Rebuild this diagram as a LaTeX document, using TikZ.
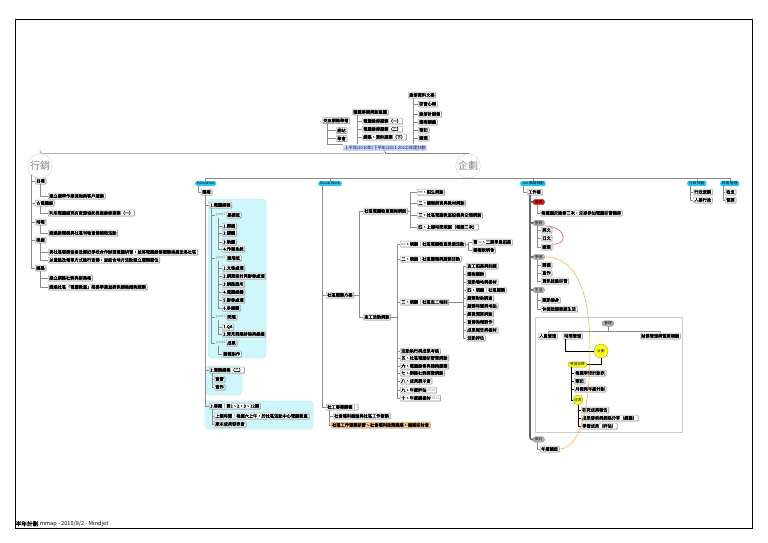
\documentclass[tikz,border=0pt]{standalone}
\usepackage{fontspec}
\setmainfont{Noto Sans CJK TC}[AutoFakeBold=2.2]
\usetikzlibrary{shadows,calc}
\definecolor{pillcol}{HTML}{2EC4EA}
\definecolor{regcol}{HTML}{CFF6FA}
\definecolor{topcol}{HTML}{C9D9F2}
\definecolor{linecol}{HTML}{8C8C8C}
\definecolor{hlcol}{HTML}{F9C594}
\definecolor{yelcol}{HTML}{FFFF1A}
\definecolor{redcol}{HTML}{E8141B}
\definecolor{relred}{HTML}{D4566A}
\definecolor{relorg}{HTML}{F2A535}
\newcommand{\fs}{\fontsize{4.2}{4.6}\selectfont\bfseries}
\newcommand{\fp}{\fontsize{3.6}{4}\selectfont}

\begin{document}
\begin{tikzpicture}[x=1pt,y=-1pt,
  ln/.style={draw=linecol,line width=0.4pt},
  thk/.style={draw=black!60,line width=1.6pt},
  blk/.style={draw=black,line width=0.8pt},
  box/.style={draw=black!40,fill=white,rounded corners=0.6pt,inner xsep=1.1pt,inner ysep=0.9pt,
    font=\fs,anchor=west,drop shadow={shadow xshift=0.5pt,shadow yshift=-0.5pt,fill=black!85}},
  hbox/.style={box,fill=hlcol,draw=hlcol!80!black},
  pill/.style={fill=pillcol,rounded corners=2pt,inner xsep=2pt,inner ysep=0.9pt,font=\fp,anchor=west},
  gpill/.style={pill,fill=black!30,draw=black!45},
  rpill/.style={pill,fill=redcol,draw=redcol!70!black},
  ypill/.style={pill,fill=yelcol,draw=olive!70},
  ycirc/.style={circle,fill=yelcol,draw=olive!80,inner sep=0pt,font=\fp},
  mainc/.style={circle,draw=black!20,fill=white,inner sep=1pt,text=black!50,font=\fontsize{10}{10}\selectfont\mdseries},
  topc/.style={fill=topcol,inner xsep=1.5pt,inner ysep=1.2pt,text=blue!45!black,font=\fontsize{4.2}{4.6}\selectfont},
  region/.style={fill=regcol,draw=pillcol!45,rounded corners=4pt,line width=0.3pt},
]
\useasboundingbox (0,0) rectangle (768,543);
\draw[line width=0.6pt] (15,19) rectangle (752,528);

% regions behind the course tree
\path[region] (208,199) rectangle (266,358);
\path[region] (205,366) rectangle (242,395);
\path[region] (205,401) rectangle (313,429);
\draw[black!20,line width=0.4pt] (535,317) rectangle (682,432);

% central topic and the groups above it
\node[topc] (top) at (385,148) {上半年(2010年)下半年(2011-2012)年度計劃};

\node[box] (ga) at (322,120.5) {交友網路聚落};
\foreach \y/\t [count=\i] in {130.5/網站,138.5/聚會}{
  \node[box] (ga\i) at (336,\y) {\t};
  \draw[ln] ([xshift=5pt]ga.south west) |- (ga\i.west);
}
\node[box] (gb) at (352,112) {整體事業規劃藍圖};
\foreach \y/\t [count=\i] in {121/電腦維修服務（一）,129/電腦維修服務（二）,137/網路、資訊服務（下）}{
  \node[box] (gb\i) at (362,\y) {\t};
  \draw[ln] ([xshift=5pt]gb.south west) |- (gb\i.west);
}
\node[box] (gc) at (408,95) {進修資料文案};
\foreach \y/\t [count=\i] in {104/研習心得,114/進修計劃書,122/課程講義,130/筆記,138/證照}{
  \node[box] (gc\i) at (418,\y) {\t};
  \draw[ln] ([xshift=5pt]gc.south west) |- (gc\i.west);
}
\coordinate (gas) at ([xshift=5pt]ga.south west);
\coordinate (gbs) at ([xshift=5pt]gb.south west);
\coordinate (gcs) at ([xshift=5pt]gc.south west);
\draw[ln] (gas) |- (top.north west);
\draw[ln] (gbs) -- (gbs |- top.north);
\draw[ln] (gcs) -- (gcs |- top.north);

% main branches
\node[mainc] (mk) at (40,166) {行銷};
\node[mainc] (pl) at (468,166) {企劃};
\draw[ln,rounded corners=3pt] (top.south) -- ++(0,2) -| (mk.north);
\draw[ln] (top.south) -- ++(0,2) -| (pl.north);

% marketing
\foreach \y/\t [count=\i] in {181/目標,203/☆電腦組,222/時程,240/推廣,268/通路}{
  \node[box] (mk\i) at (35,\y) {\t};
  \draw[ln] (mk.south west) |- (mk\i.west);
}
\node[box] (mka1) at (48,196) {建立標準作業流程與客戶服務};
\node[box] (mkb1) at (48,213) {利用電腦組現有資源協助推廣維修業務（一）};
\node[box] (mkc1) at (48,233) {透過新聞稿與社區刊物宣傳課程活動};
\node[box] (mkd1) at (48,252) {與社區發展協會及鄰近學校合作辦理電腦研習，並將電腦維修服務推廣至各社區};
\node[box] (mkd2) at (48,260) {以電話及傳單方式進行宣傳，並結合地方活動設立服務攤位};
\node[box] (mke1) at (48,278) {建立網路社群與部落格};
\node[box] (mke2) at (48,287) {透過社區「電腦教室」招募學員並提供課後諮詢服務};
\draw[ln] ([xshift=5pt]mk1.south west) |- (mka1.west);
\draw[ln] ([xshift=5pt]mk2.south west) |- (mkb1.west);
\draw[ln] ([xshift=5pt]mk3.south west) |- (mkc1.west);
\draw[ln] ([xshift=5pt]mk4.south west) |- (mkd1.west);
\draw[ln] ([xshift=5pt]mk4.south west) |- (mkd2.west);
\draw[ln] ([xshift=5pt]mk5.south west) |- (mke1.west);
\draw[ln] ([xshift=5pt]mk5.south west) |- (mke2.west);

% planning topics
\node[pill] (edu) at (195,183.5) {Education};
\node[pill] (sw) at (318,183.5) {Social Work};
\node[pill] (job) at (520,183.5) {Job 職場規劃};
\node[pill] (adm) at (687,183.5) {行政 規劃};
\node[pill] (fin) at (720,183.5) {財務 管理};
\foreach \n in {edu,sw,job,adm,fin} \draw[ln] (pl.south) -| (\n.north);

% education
\node[box] (cs) at (201,192) {課程};
\draw[ln] ([xshift=3pt]edu.south west) |- (cs.west);
\node[box] (c1) at (209,205) {1.電腦課程};
\node[box] (c2) at (209,370) {2.實務課程（二）};
\node[box] (c3) at (209,406) {3.專題：第1、2、3、12期};
\foreach \n in {c1,c2,c3} \draw[ln] ([xshift=4pt]cs.south west) |- (\n.west);
\foreach \y/\p/\t [count=\i] in {215/part1/基礎班,258/part2/進階班,317/part3/問題,343/part4/成果}{
  \node[box,label={[font=\fp,text=black!50,inner sep=0.5pt]left:\p}] (pa\i) at (226,\y) {\t};
  \draw[ln] ([xshift=2.5pt]c1.south west) |- ([xshift=-11pt]pa\i.west);
}
\foreach \y/\t [count=\i] in {226/1.開機,233/2.硬體,242/3.軟體,249/4.作業系統}{
  \node[box] (pb\i) at (222,\y) {\t};
  \draw[ln] ([xshift=-8pt]pa1.south west) |- (pb\i.west);
}
\foreach \y/\t [count=\i] in {268/1.文書處理,276/2.網頁設計與影像處理,284/3.網路應用,292/4.電腦維護,300/5.影像處理,308/6.多媒體}{
  \node[box] (pc\i) at (222,\y) {\t};
  \draw[ln] ([xshift=-8pt]pa2.south west) |- (pc\i.west);
}
\foreach \y/\t [count=\i] in {327/1.QA,334/2.常見問題排除與維護}{
  \node[box] (pd\i) at (222,\y) {\t};
  \draw[ln] ([xshift=-8pt]pa3.south west) |- (pd\i.west);
}
\node[box] (pe1) at (222,354) {簡報製作};
\draw[ln] ([xshift=-8pt]pa4.south west) |- (pe1.west);
\foreach \y/\t [count=\i] in {379/實習,387/實作}{
  \node[box] (cb\i) at (214,\y) {\t};
  \draw[ln] ([xshift=3pt]c2.south west) |- (cb\i.west);
}
\foreach \y/\t [count=\i] in {416/上課時間：每週六上午，於社區活動中心電腦教室,424/期末成果發表會}{
  \node[box] (cc\i) at (214,\y) {\t};
  \draw[ln] ([xshift=3pt]c3.south west) |- (cc\i.west);
}

% social work
\node[box] (s1) at (326,295) {社區服務方案};
\node[box] (s2) at (326,407) {社工專業課程：};
\foreach \n in {s1,s2} \draw[ln] ([xshift=4pt]sw.south west) |- (\n.west);
\node[box] (sa) at (363,211) {社區電腦教室課程規劃};
\node[box] (sb) at (363,317) {志工活動規劃};
\foreach \n in {sa,sb} \draw[ln] (s1.east) -- ++(5,0) |- (\n.west);
\foreach \y/\t [count=\i] in {192/一、招生規劃,203/二、課程師資與教材規劃,215/三、社區電腦教室設備與空間規劃,227/四、上課時間規劃（每週三次）}{
  \node[box] (sa\i) at (417,\y) {\t};
  \draw[ln] (sa.east) -- ++(3,0) |- (sa\i.west);
}
\foreach \y/\t [count=\i] in {244/一、規劃：社區電腦教室推廣活動,259/二、規劃：社區關懷與服務活動,302/三、規劃：社區志工培訓,351/活動執行與成果考核,358/五、社區電腦研習營規劃,366/六、電腦維修與諮詢服務,373/七、網路社群經營規劃,381/八、成果展示會,390/九、年度評估\,{\fp\mdseries\color{black!50}2010},398/十、年度總檢討\,{\fp\mdseries\color{black!50}2011}}{
  \node[box] (sb\i) at (400,\y) {\t};
  \draw[ln] (sb.east) -- ++(6,0) |- (sb\i.west);
}
\foreach \y/\t [count=\i] in {242/第一、二期學員招募,250/課程說明會}{
  \node[box] (sc\i) at (472,\y) {\t};
  \draw[ln] (sb1.east) -- ++(3,0) |- (sc\i.west);
}
\foreach \y/\t [count=\i] in {266/志工招募與訓練,274/課程講師,282/活動場地與器材,290/四、規劃：社區服務,298/服務對象調查,306/服務時間與地點,314/經費預算規劃,322/宣傳海報製作,330/成果報告與檢討,338/活動評估}{
  \node[box] (sd\i) at (466,\y) {\t};
  \draw[ln] (sb3.east) -- ++(14,0) |- (sd\i.west);
}
\node[box] (s2a) at (333,416) {社會福利概論與社區工作實務};
\node[hbox] (s2b) at (331,425) {社區工作實務研習、社會福利政策講座、個案研討會};
\draw[ln] ([xshift=3pt]s2.south west) |- (s2a.west);
\draw[ln] ([xshift=3pt]s2.south west) |- (s2b.west);

% job
\node[box] (jb) at (527,192) {工作室};
\draw[ln] ([xshift=3pt]job.south west) |- (jb.west);
\node[rpill] (j1) at (533,202) {重要};
\node[gpill] (j2) at (533,223) {進修};
\node[gpill] (j3) at (533,257) {學習};
\node[gpill] (j4) at (533,290) {生活};
\node[gpill] (j6) at (533,439.5) {檢討};
\foreach \n in {j1,j2,j3,j4,j6} \draw[thk,rounded corners=2pt] ([xshift=3pt]jb.south west) |- (\n.west);
\node[box] (j1a) at (540,213) {每週固定進修三次，定期參加電腦研習講座};
\draw[ln] ([xshift=4pt]j1.south west) |- (j1a.west);
\foreach \y/\t [count=\i] in {230/英文,238/日文,247/證照}{
  \node[box] (j2\i) at (541,\y) {\t};
  \draw[ln] ([xshift=4pt]j2.south west) |- (j2\i.west);
}
\foreach \y/\t [count=\i] in {265/閱讀,273/寫作,281/資訊技能研習}{
  \node[box] (j3\i) at (541,\y) {\t};
  \draw[ln] ([xshift=4pt]j3.south west) |- (j3\i.west);
}
\foreach \y/\t [count=\i] in {300/運動健身,309/休閒旅遊家庭生活}{
  \node[box] (j4\i) at (541,\y) {\t};
  \draw[ln] ([xshift=4pt]j4.south west) |- (j4\i.west);
}
\node[box] (j6a) at (540,449) {年度總結};
\draw[ln] ([xshift=4pt]j6.south west) |- (j6a.west);

% management boundary
\node[gpill,anchor=center] (mg) at (608,323.5) {管理};
\node[box] (m1) at (538,336) {人員管理};
\node[box] (m2) at (563,336) {時間管理};
\node[box] (m3) at (640,336) {財務管理與預算規劃};
\foreach \n in {m1,m2,m3} \draw[ln] (mg.south) |- ([yshift=2pt]\n.north) -- (\n.north);
\node[ycirc,minimum size=14pt] (y1) at (601,351) {計劃};
\draw[blk] ([xshift=2pt]m2.south west) |- (y1.west);
\node[ypill] (yp) at (568,364.5) {學習目標};
\draw[blk] (y1.south) |- (yp.east);
\foreach \y/\t [count=\i] in {373/每週學習計劃表,381/筆記,389/月報與年度計劃}{
  \node[box] (yp\i) at (574,\y) {\t};
  \draw[blk,line width=0.5pt] ([xshift=3pt]yp.south west) |- (yp\i.west);
}
\node[ycirc,minimum size=10pt] (y2) at (578,400) {成果};
\draw[blk,line width=0.5pt] ([xshift=3pt]yp.south west) |- (y2.west);
\foreach \y/\t [count=\i] in {410/研究成果報告,418/成果發表與網路分享（經驗）,426/學習成果（評估）}{
  \node[box] (yq\i) at (581,\y) {\t};
  \draw[blk,line width=0.5pt] (y2.south) |- (yq\i.west);
}

% relationships
\draw[relred,line width=0.6pt] (j2.south east) .. controls (568,227) and (568,246) .. (j23.north east);
\draw[relorg,line width=0.5pt] (j3.east) .. controls (578,257) and (590,295) .. (590,350)
  .. controls (590,415) and (578,449) .. (j6a.east);

% admin, finance
\foreach \y/\t [count=\i] in {192/行政庶務,200/人事行政}{
  \node[box] (ad\i) at (693,\y) {\t};
  \draw[ln] ([xshift=3pt]adm.south west) |- (ad\i.west);
}
\foreach \y/\t [count=\i] in {192/收支,200/預算}{
  \node[box] (fi\i) at (725,\y) {\t};
  \draw[ln] ([xshift=3pt]fin.south west) |- (fi\i.west);
}

\node[anchor=south west,inner sep=0.6pt,font=\fontsize{5.6}{6}\selectfont] (cap) at (15,528)
  {\textbf{半年計劃}.mmap - 2010/8/2 - Mindjet};
\end{tikzpicture}
\end{document}
